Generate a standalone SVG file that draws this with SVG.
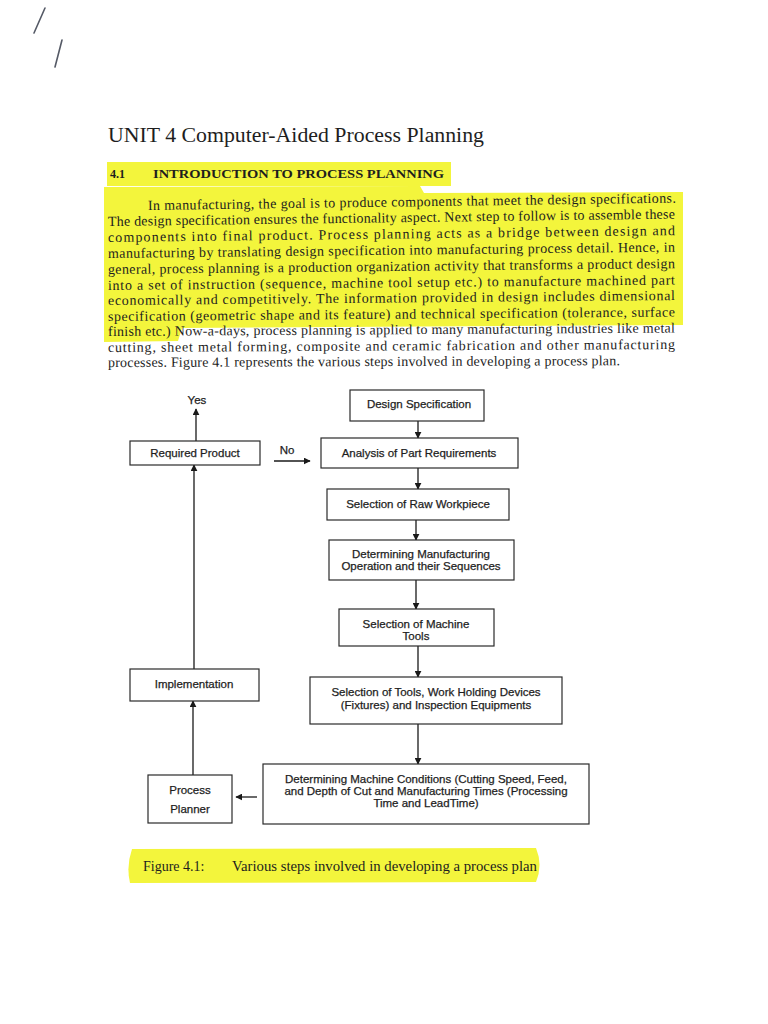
<svg xmlns="http://www.w3.org/2000/svg" width="768" height="1024" viewBox="0 0 768 1024">
<defs>
<marker id="ah" viewBox="0 0 10 10" refX="9" refY="5" markerWidth="7" markerHeight="7" orient="auto-start-reverse" markerUnits="userSpaceOnUse">
<path d="M0,0 L10,5 L0,10 Z" fill="#1a1a1a"/>
</marker>
<style>
.pg{fill:#ffffff}
.hl{fill:#f3f53c}
.ser{font-family:"Liberation Serif","Times New Roman",serif;fill:#1e1e1e}
.p{font-size:14px}
.box{fill:#ffffff;stroke:#2a2a2a;stroke-width:1.2}
.lbl{font-family:"Liberation Sans",Arial,sans-serif;font-size:11.5px;fill:#1e1e1e;stroke:#1e1e1e;stroke-width:0.25;text-anchor:middle}
.con{stroke:#1a1a1a;stroke-width:1.3;fill:none}
.mark{stroke:#555a66;stroke-width:1.6;fill:none;stroke-linecap:round}
</style>
</defs>
<rect class="pg" x="0" y="0" width="768" height="1024"/>
<path class="mark" d="M45,8 L34,33"/>
<path class="mark" d="M62,40 L55,67"/>

<g id="header">
<text class="ser" x="108" y="142" font-size="20" textLength="376" lengthAdjust="spacingAndGlyphs">UNIT 4 Computer-Aided Process Planning</text>
<rect class="hl" x="107" y="162" width="344" height="24"/>
<text class="ser" x="110" y="178" font-size="12" font-weight="bold">4.1</text>
<text class="ser" x="153" y="178" font-size="12.5" font-weight="bold" textLength="291" lengthAdjust="spacingAndGlyphs">INTRODUCTION TO PROCESS PLANNING</text>
</g>

<g id="paragraph">
<path class="hl" d="M104,187 L420,186 L424,193 L683,192 L683,325 L182,328 L178,341 L104,342 Z"/>
<text class="ser p" x="148" y="210" textLength="528" lengthAdjust="spacing" transform="rotate(-0.8 148 210)">In manufacturing, the goal is to produce components that meet the design specifications.</text>
<text class="ser p" x="108" y="226" textLength="567" lengthAdjust="spacing" transform="rotate(-0.75 108 226)">The design specification ensures the functionality aspect. Next step to follow is to assemble these</text>
<text class="ser p" x="108" y="242" textLength="567" lengthAdjust="spacing" transform="rotate(-0.7 108 242)">components into final product. Process planning acts as a bridge between design and</text>
<text class="ser p" x="108" y="258" textLength="567" lengthAdjust="spacing" transform="rotate(-0.65 108 258)">manufacturing by translating design specification into manufacturing process detail. Hence, in</text>
<text class="ser p" x="108" y="274" textLength="567" lengthAdjust="spacing" transform="rotate(-0.6 108 274)">general, process planning is a production organization activity that transforms a product design</text>
<text class="ser p" x="108" y="290" textLength="567" lengthAdjust="spacing" transform="rotate(-0.55 108 290)">into a set of instruction (sequence, machine tool setup etc.) to manufacture machined part</text>
<text class="ser p" x="108" y="305" textLength="567" lengthAdjust="spacing" transform="rotate(-0.5 108 305)">economically and competitively. The information provided in design includes dimensional</text>
<text class="ser p" x="108" y="321" textLength="567" lengthAdjust="spacing" transform="rotate(-0.45 108 321)">specification (geometric shape and its feature) and technical specification (tolerance, surface</text>
<text class="ser p" x="108" y="336" textLength="567" lengthAdjust="spacing" transform="rotate(-0.35 108 336)">finish etc.) Now-a-days, process planning is applied to many manufacturing industries like metal</text>
<text class="ser p" x="108" y="352" textLength="567" lengthAdjust="spacing" transform="rotate(-0.3 108 352)">cutting, sheet metal forming, composite and ceramic fabrication and other manufacturing</text>
<text class="ser p" x="108" y="367" textLength="512" lengthAdjust="spacing" transform="rotate(-0.2 108 367)">processes. Figure 4.1 represents the various steps involved in developing a process plan.</text>
</g>

<g id="connectors">
<line class="con" x1="196" y1="441" x2="196" y2="409" marker-end="url(#ah)"/>
<line class="con" x1="274" y1="461" x2="310" y2="461" marker-end="url(#ah)"/>
<line class="con" x1="418" y1="421" x2="418" y2="438" marker-end="url(#ah)"/>
<line class="con" x1="418" y1="468" x2="418" y2="489" marker-end="url(#ah)"/>
<line class="con" x1="416" y1="520" x2="416" y2="540" marker-end="url(#ah)"/>
<line class="con" x1="416" y1="580" x2="416" y2="609" marker-end="url(#ah)"/>
<line class="con" x1="418" y1="646" x2="418" y2="677" marker-end="url(#ah)"/>
<line class="con" x1="418" y1="724" x2="418" y2="764" marker-end="url(#ah)"/>
<line class="con" x1="257" y1="797" x2="236" y2="797" marker-end="url(#ah)"/>
<line class="con" x1="193" y1="775" x2="193" y2="701" marker-end="url(#ah)"/>
<line class="con" x1="194" y1="669" x2="194" y2="465" marker-end="url(#ah)"/>
</g>

<g id="yes"><text class="lbl" x="197" y="404">Yes</text></g>
<g id="no"><text class="lbl" x="287" y="454">No</text></g>

<g id="required-product">
<rect class="box" x="130" y="441" width="130" height="24"/>
<text class="lbl" x="195" y="457">Required Product</text>
</g>
<g id="design-specification">
<rect class="box" x="350" y="390" width="134" height="31"/>
<text class="lbl" x="419" y="408">Design Specification</text>
</g>
<g id="analysis">
<rect class="box" x="321" y="438" width="197" height="30"/>
<text class="lbl" x="419" y="457">Analysis of Part Requirements</text>
</g>
<g id="raw-workpiece">
<rect class="box" x="327" y="489" width="182" height="31"/>
<text class="lbl" x="418" y="508">Selection of Raw Workpiece</text>
</g>
<g id="manufacturing-operation">
<rect class="box" x="329" y="540" width="185" height="40"/>
<text class="lbl" x="421" y="558">Determining Manufacturing</text>
<text class="lbl" x="421" y="570">Operation and their Sequences</text>
</g>
<g id="machine-tools">
<rect class="box" x="339" y="609" width="155" height="37"/>
<text class="lbl" x="416" y="628">Selection of Machine</text>
<text class="lbl" x="416" y="640">Tools</text>
</g>
<g id="tools-devices">
<rect class="box" x="310" y="677" width="252" height="47"/>
<text class="lbl" x="436" y="696">Selection of Tools, Work Holding Devices</text>
<text class="lbl" x="436" y="709">(Fixtures) and Inspection Equipments</text>
</g>
<g id="machine-conditions">
<rect class="box" x="263" y="764" width="326" height="60"/>
<text class="lbl" x="426" y="783">Determining Machine Conditions (Cutting Speed, Feed,</text>
<text class="lbl" x="426" y="795">and Depth of Cut and Manufacturing Times (Processing</text>
<text class="lbl" x="426" y="807">Time and LeadTime)</text>
</g>
<g id="process-planner">
<rect class="box" x="148" y="775" width="84" height="48"/>
<text class="lbl" x="190" y="794">Process</text>
<text class="lbl" x="190" y="813">Planner</text>
</g>
<g id="implementation">
<rect class="box" x="130" y="669" width="129" height="32"/>
<text class="lbl" x="194" y="688">Implementation</text>
</g>

<g id="caption">
<path class="hl" d="M132,849 L536,848 Q543,865 536,882 L130,883 Q126,866 132,849 Z"/>
<text class="ser" x="143" y="871" font-size="14">Figure 4.1:</text>
<text class="ser" x="232" y="871" font-size="14" textLength="305" lengthAdjust="spacingAndGlyphs">Various steps involved in developing a process plan</text>
</g>
</svg>
